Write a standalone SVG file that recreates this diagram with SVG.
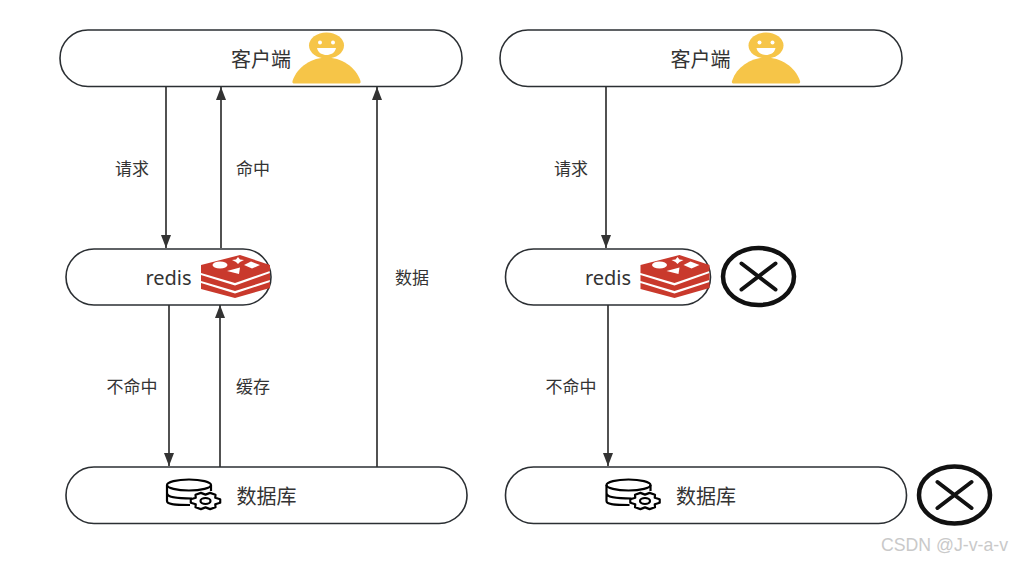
<svg xmlns="http://www.w3.org/2000/svg" xmlns:xlink="http://www.w3.org/1999/xlink" width="1011" height="563" viewBox="0 0 1011 563">
<style>
text{font-family:"Noto Sans CJK SC","Noto Sans",sans-serif;fill:#333;}
.box{fill:#fff;stroke:#2b2f33;stroke-width:1.6;}
.t{font-size:20px;text-anchor:middle;}
.l{font-size:17px;text-anchor:middle;}
.c{stroke:#333;stroke-width:1.7;fill:none;marker-end:url(#a);}
.x{fill:none;stroke:#111;stroke-width:4;stroke-linecap:round;}
</style>
<defs>
<marker id="a" markerUnits="userSpaceOnUse" markerWidth="14" markerHeight="12" refX="13" refY="6" orient="auto" viewBox="0 0 14 12"><path d="M0 1 13 6 0 11Z" fill="#333"/></marker>
<g id="user">
<path d="M-34 24C-29 9-14 0.500 0 0.500S29 9 34 24C34.500 26 33.500 26.500 32 26.500H-32C-33.500 26.500-34.500 26-34 24Z" fill="#f6c548"/>
<ellipse cx="0" cy="-11.500" rx="17.500" ry="13" fill="#f6c548"/>
<circle cx="-6.500" cy="-14.500" r="2" fill="#fff"/><circle cx="6.500" cy="-14.500" r="2" fill="#fff"/>
<path d="M-9.500-9H9.500C8.500-4 4-2 0-2S-8.500-4-9.500-9Z" fill="#fff"/>
</g>
<g id="redis">
<path d="M0 7 39-3 69 7 69 13 34 25 0 15Z" fill="#c9392c"/>
<path d="M0 17 34 27.500 69 15 69 22 34 33 0 23Z" fill="#c9392c"/>
<path d="M0 25 34 35.500 69 24 69 30 34 40 0 31Z" fill="#c9392c"/>
<ellipse cx="19" cy="7" rx="7.500" ry="3.500" fill="#fff"/>
<path d="M31 2 35 1.500 37-1 39 1.500 43 2 39 4 37 6 35 4Z" fill="#fff"/>
<path d="M43 7 50 3.500 59 7 51 10.500Z" fill="#fff"/>
<path d="M26 13 39 9.500 38 16Z" fill="#fff"/>
</g>
<g id="db" fill="none" stroke="#000" stroke-width="2.200" stroke-linejoin="round">
<ellipse cx="23" cy="5" rx="22" ry="5.500"/>
<path d="M1 5V21C1 24 7 25 24 25M1 13C1 17 9 18.500 26 18.500M45 5V11"/>
<g transform="translate(39.500 21)"><path d="M14.700-1.800 9.750-3.200 10-6.300 4.600-8.100 0-6.400-4.600-8.100-10-6.300-9.750-3.200-14.700-1.800-14.700 1.800-9.750 3.200-10 6.300-4.600 8.100 0 6.400 4.600 8.100 10 6.300 9.750 3.200 14.700 1.800Z" fill="#fff"/><ellipse rx="5" ry="3"/></g>
</g>
<g id="no"><ellipse cx="0" cy="0" rx="35.500" ry="28.500" fill="#fff" stroke="#111" stroke-width="4.500"/><path class="x" d="M-17-13 17 13M17-13-17 13"/></g>
</defs>
<g id="connectors">
<path class="c" d="M166 87V248"/>
<path class="c" d="M221 248V87"/>
<path class="c" d="M377 467V87"/>
<path class="c" d="M169 305V466"/>
<path class="c" d="M220 467V305"/>
<path class="c" d="M606 87V248"/>
<path class="c" d="M608 305V466"/>
</g>
<g id="labels">
<text class="l" x="132" y="174.500">请求</text>
<text class="l" x="253" y="174.500">命中</text>
<text class="l" x="412" y="283.500">数据</text>
<text class="l" x="132" y="392.500">不命中</text>
<text class="l" x="253" y="392.500">缓存</text>
<text class="l" x="571" y="174.500">请求</text>
<text class="l" x="571" y="392.500">不命中</text>
</g>
<g id="client-left"><rect class="box" x="60" y="30" width="402" height="56.500" rx="28"/><text class="t" x="261" y="66.500">客户端</text><use xlink:href="#user" href="#user" x="326.500" y="57"/></g>
<g id="redis-left"><rect class="box" x="66" y="249" width="205" height="56" rx="28"/><text class="t" x="168.500" y="284.500" style="font-family:'Noto Sans',sans-serif">redis</text><use xlink:href="#redis" href="#redis" x="201" y="258"/></g>
<g id="db-left"><rect class="box" x="66" y="467" width="401" height="56.500" rx="28"/><text class="t" x="266.500" y="503.500">数据库</text><use xlink:href="#db" href="#db" x="166" y="480"/></g>
<g id="client-right"><rect class="box" x="500" y="30" width="402" height="56.500" rx="28"/><text class="t" x="700.500" y="66.500">客户端</text><use xlink:href="#user" href="#user" x="766" y="57"/></g>
<g id="redis-right"><rect class="box" x="505.500" y="249" width="205" height="56" rx="28"/><text class="t" x="608" y="284.500" style="font-family:'Noto Sans',sans-serif">redis</text><use xlink:href="#redis" href="#redis" x="640.500" y="258"/></g>
<g id="db-right"><rect class="box" x="505.500" y="467" width="401" height="56.500" rx="28"/><text class="t" x="706" y="503.500">数据库</text><use xlink:href="#db" href="#db" x="605.500" y="480"/></g>
<use id="x-redis" xlink:href="#no" href="#no" x="758.500" y="276.500"/>
<use id="x-db" xlink:href="#no" href="#no" x="954.500" y="495"/>
<text x="1008" y="551" text-anchor="end" style="font-family:'Liberation Sans',sans-serif;font-size:17.700px;fill:#c9c9c9">CSDN @J-v-a-v</text>
</svg>
